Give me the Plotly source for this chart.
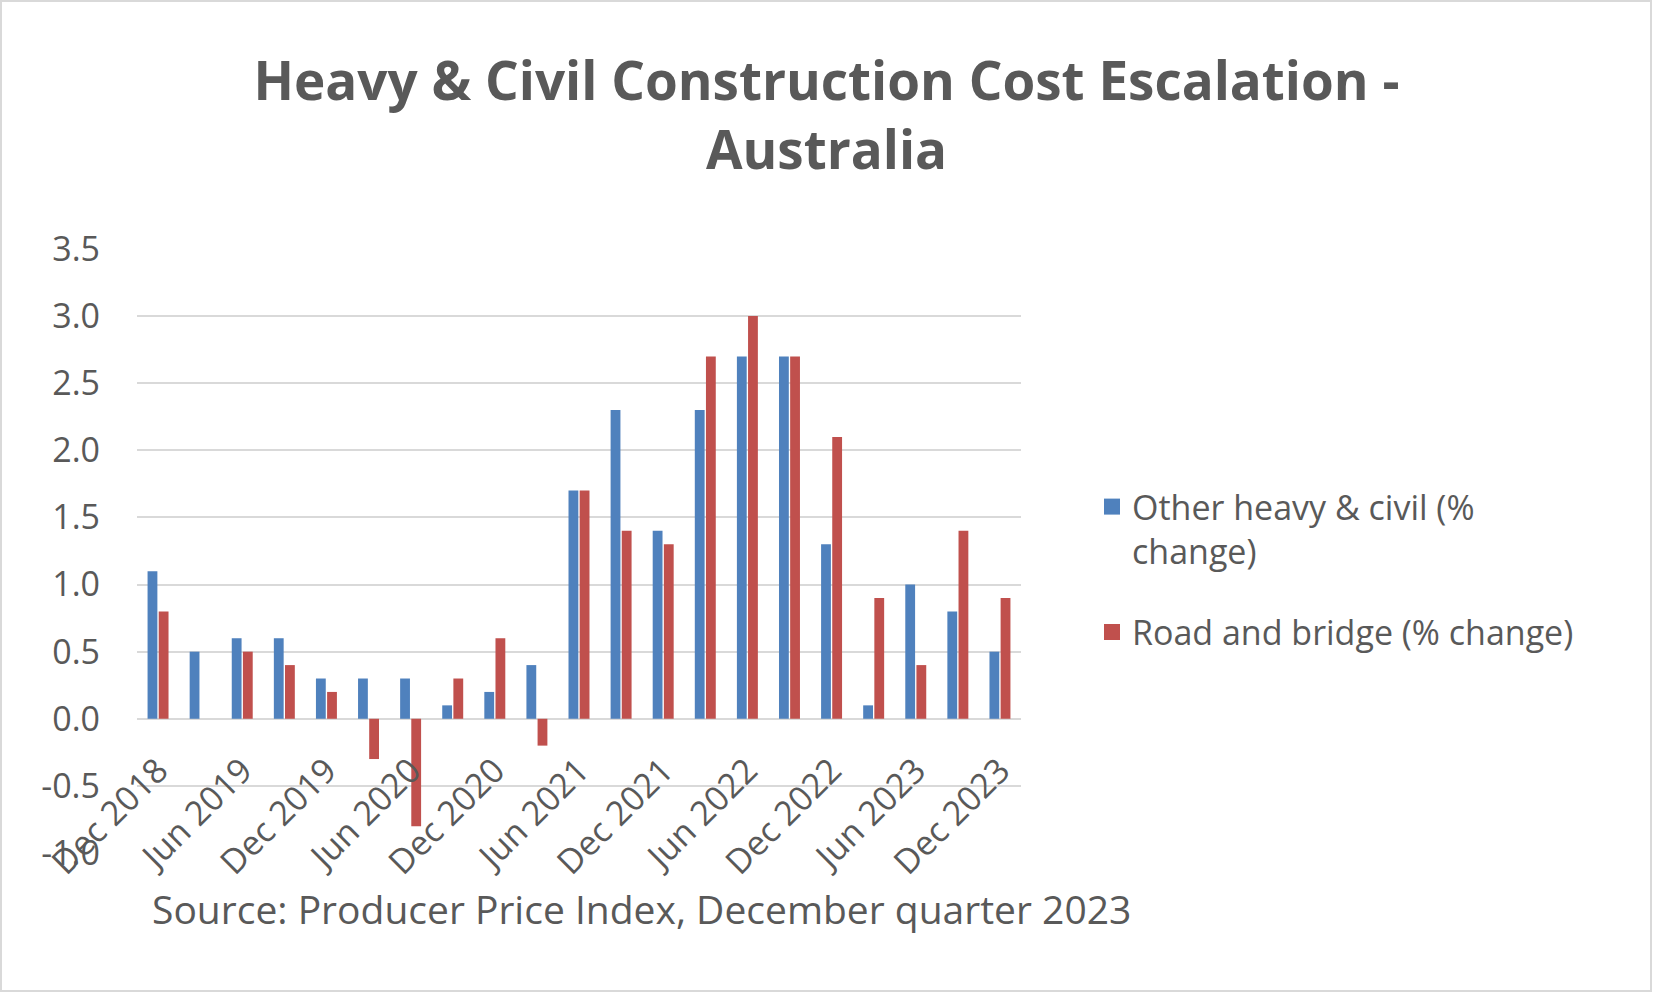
import plotly.graph_objects as go

quarters = ["Dec 2018", "Mar 2019", "Jun 2019", "Sep 2019", "Dec 2019", "Mar 2020", "Jun 2020",
            "Sep 2020", "Dec 2020", "Mar 2021", "Jun 2021", "Sep 2021", "Dec 2021", "Mar 2022",
            "Jun 2022", "Sep 2022", "Dec 2022", "Mar 2023", "Jun 2023", "Sep 2023", "Dec 2023"]
other_heavy_civil = [1.1, 0.5, 0.6, 0.6, 0.3, 0.3, 0.3, 0.1, 0.2, 0.4, 1.7, 2.3, 1.4, 2.3,
                     2.7, 2.7, 1.3, 0.1, 1.0, 0.8, 0.5]
road_and_bridge = [0.8, 0.0, 0.5, 0.4, 0.2, -0.3, -0.8, 0.3, 0.6, -0.2, 1.7, 1.4, 1.3, 2.7,
                   3.0, 2.7, 2.1, 0.9, 0.4, 1.4, 0.9]
tick_labels = quarters[::2]
y_ticks = [-1.0, -0.5, 0.0, 0.5, 1.0, 1.5, 2.0, 2.5, 3.0, 3.5]
y_tick_text = ["%.1f" % v for v in y_ticks]

FONT = "'Open Sans', sans-serif"
GREY = "#595959"
BLUE = "#4F81BD"
RED = "#C0504D"

fig = go.Figure()
fig.add_trace(go.Bar(x=quarters, y=other_heavy_civil, name="Other heavy & civil (%<br>change)",
                     marker=dict(color=BLUE, line=dict(width=0)), showlegend=False))
fig.add_trace(go.Bar(x=quarters, y=road_and_bridge, name="Road and bridge (% change)",
                     marker=dict(color=RED, line=dict(width=0)), showlegend=False))
# legend entries with square swatches
fig.add_trace(go.Scatter(x=[None], y=[None], mode="markers", name="Other heavy & civil (%<br>change)",
                         marker=dict(symbol="square", color=BLUE, size=20), legendgroup="a"))
fig.add_trace(go.Scatter(x=[None], y=[None], mode="markers", name="Road and bridge (% change)",
                         marker=dict(symbol="square", color=RED, size=20), legendgroup="b"))

L, R, T, B = 137, 1021, 249, 853
W, H = 1653, 993
pw, ph = R - L, B - T
ymin, ymax = -1.0, 3.5

fig.update_layout(
    width=W, height=H,
    margin=dict(l=L, r=W - R, t=T, b=H - B),
    paper_bgcolor="white", plot_bgcolor="white",
    barmode="group", bargap=0.47, bargroupgap=0.12,
    font=dict(family=FONT, color=GREY),
    title=dict(text="<b>Heavy & Civil Construction Cost Escalation -<br>Australia</b>",
               x=0.5, xanchor="center", y=1 - 100 / H, yanchor="middle",
               font=dict(size=53, color=GREY, family=FONT)),
    xaxis=dict(tickmode="array", tickvals=tick_labels, ticktext=tick_labels, tickangle=-45,
               tickfont=dict(size=34, color=GREY), showgrid=False, showline=False, ticks="",
               categoryorder="array", categoryarray=quarters,
               anchor="free", position=(0 - ymin) / (ymax - ymin), ticklabelstandoff=24),
    yaxis=dict(range=[ymin, ymax], tickmode="array", tickvals=y_ticks, ticktext=y_tick_text,
               showgrid=True, gridcolor="#D9D9D9", gridwidth=2, zeroline=True,
               zerolinecolor="#D9D9D9", zerolinewidth=2, showline=False, ticks="",
               tickfont=dict(size=34, color=GREY), ticklabelstandoff=36),
    legend=dict(x=(1092 - L) / pw, y=(B - 478) / ph, xanchor="left", yanchor="top",
                font=dict(size=34, color=GREY), tracegroupgap=34, traceorder="grouped",
                itemwidth=30, valign="top", bgcolor="rgba(0,0,0,0)"),
    showlegend=True,
)

fig.add_annotation(text="Source: Producer Price Index, December quarter 2023",
                   xref="paper", yref="paper", x=(150 - L) / pw, y=(B - 908) / ph,
                   xanchor="left", yanchor="middle", showarrow=False,
                   font=dict(size=39, color=GREY, family=FONT))

fig.add_shape(type="rect", xref="paper", yref="paper",
              x0=(1 - L) / pw, x1=(W - 2 - L) / pw, y0=(B - (H - 2)) / ph, y1=(B - 1) / ph,
              line=dict(color="#D9D9D9", width=2), fillcolor="rgba(0,0,0,0)", layer="below")

fig.write_html("out.html")
